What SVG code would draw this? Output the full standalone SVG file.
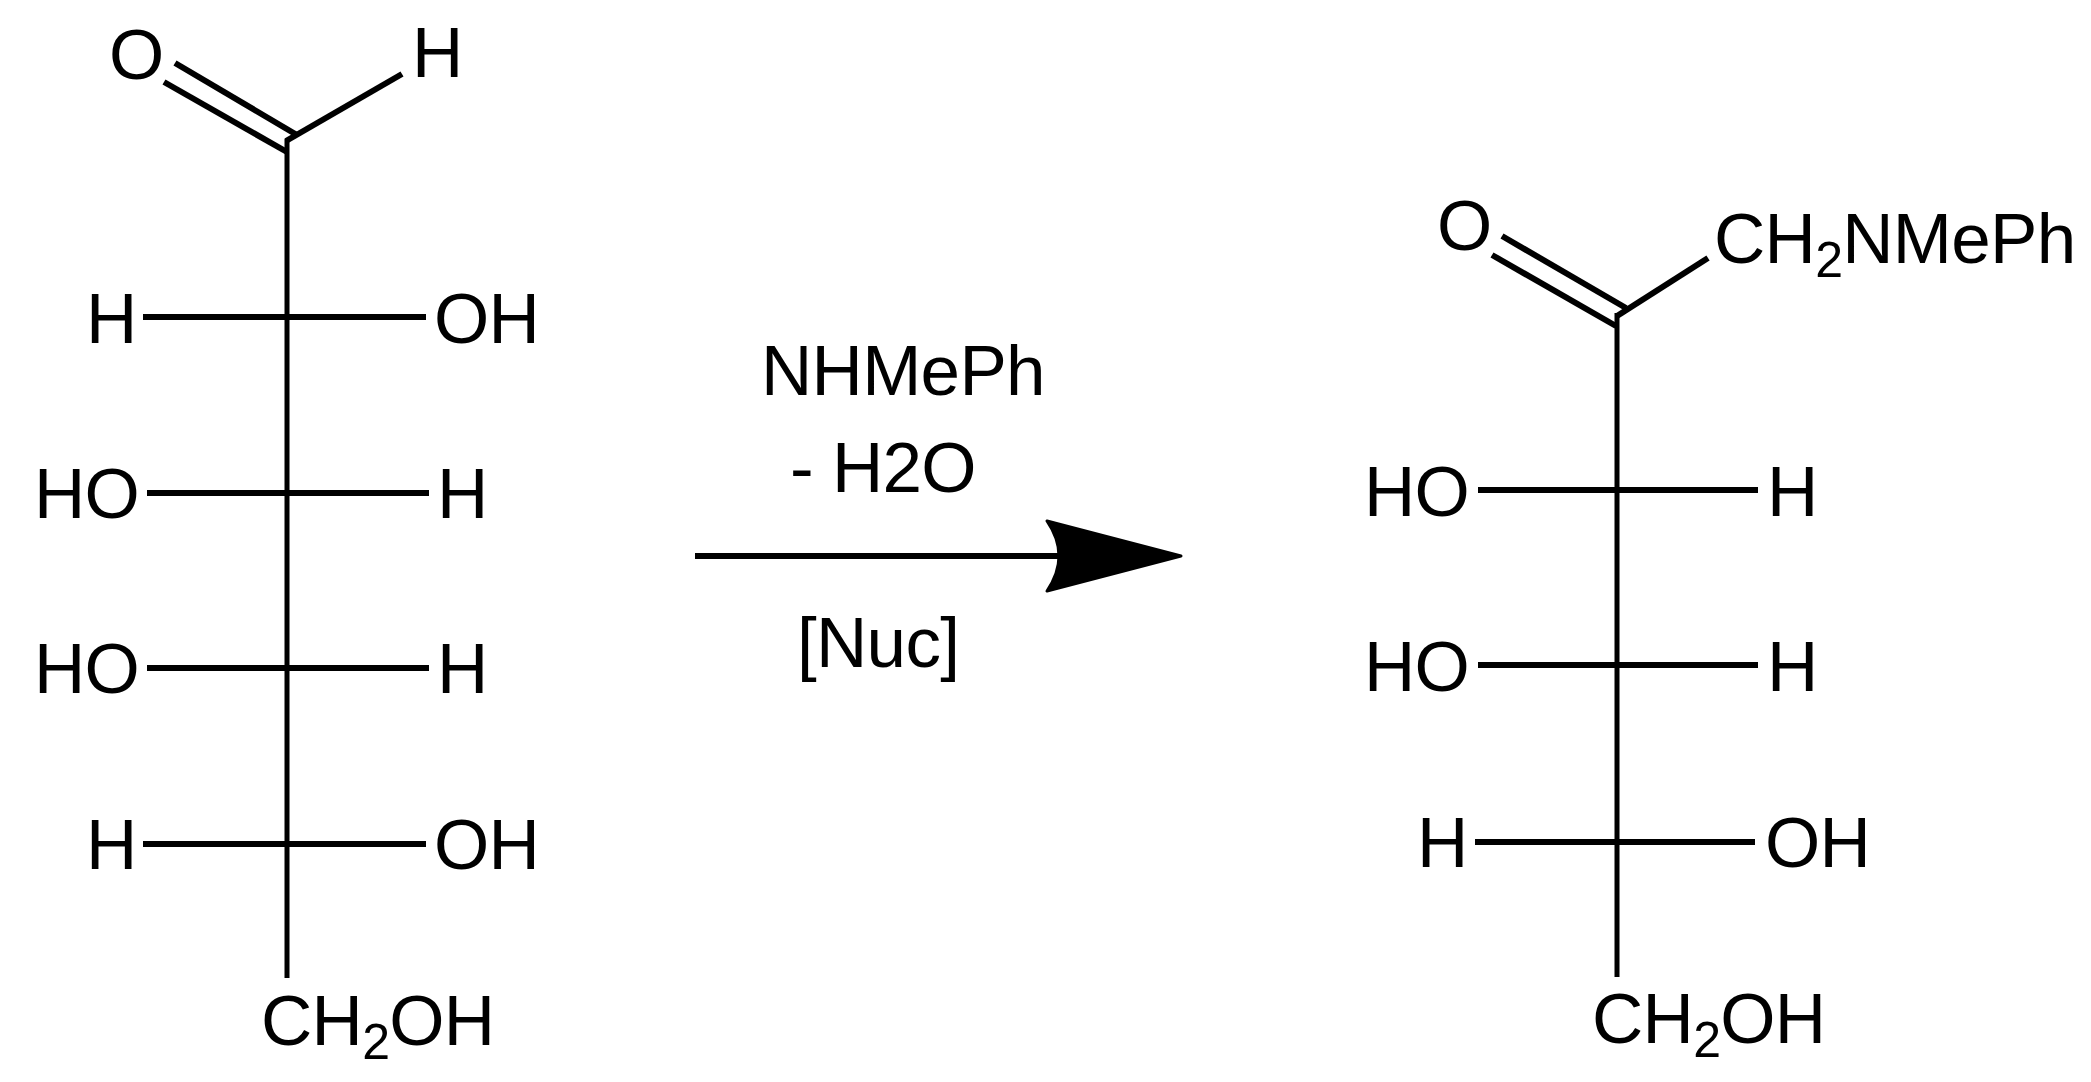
<svg xmlns="http://www.w3.org/2000/svg" width="2091" height="1082" viewBox="0 0 2091 1082">
<style>
text{font-family:"Liberation Sans",Arial,sans-serif;font-size:71px;letter-spacing:-0.7px;fill:#000}
.s{font-size:50px}
line{stroke:#000;stroke-width:6;fill:none}
.v{stroke-width:5}
</style>
<rect width="2091" height="1082" fill="#fff"/>
<g id="connectors">
<line class="v" x1="287" y1="139" x2="287" y2="978"/>
<line x1="297" y1="135" x2="175" y2="63"/>
<line x1="287" y1="152" x2="164" y2="82"/>
<line x1="286" y1="141" x2="402" y2="74"/>
<line x1="143" y1="317" x2="426" y2="317"/>
<line x1="147" y1="493" x2="429" y2="493"/>
<line x1="147" y1="668" x2="429" y2="668"/>
<line x1="143" y1="844" x2="426" y2="844"/>
<line class="v" x1="1617" y1="313" x2="1617" y2="977"/>
<line x1="1626" y1="308" x2="1502" y2="236"/>
<line x1="1616" y1="326" x2="1492" y2="255"/>
<line x1="1617" y1="316" x2="1708" y2="258"/>
<line x1="1478" y1="490" x2="1758" y2="490"/>
<line x1="1478" y1="665" x2="1758" y2="665"/>
<line x1="1475" y1="842" x2="1755" y2="842"/>
<line x1="695" y1="556" x2="1062" y2="556"/>
<path id="arrowhead" d="M1181 556L1047 521Q1071 556 1047 591Z" fill="#000" stroke="#000" stroke-width="3" stroke-linejoin="round"/>
</g>
<g id="aldose">
<text x="109" y="79">O</text>
<text x="412" y="77">H</text>
<text x="86" y="343">H</text>
<text x="434" y="343">OH</text>
<text x="34" y="518">HO</text>
<text x="437" y="518">H</text>
<text x="34" y="693">HO</text>
<text x="437" y="693">H</text>
<text x="86" y="869">H</text>
<text x="434" y="869">OH</text>
<text x="261" y="1045">CH<tspan class="s" dy="14">2</tspan><tspan dy="-14">OH</tspan></text>
</g>
<g id="reagents">
<text x="761" y="395">NHMePh</text>
<text x="790" y="492">- H2O</text>
<text x="797" y="667">[Nuc]</text>
</g>
<g id="product">
<text x="1437" y="250">O</text>
<text x="1714" y="263">CH<tspan class="s" dy="14">2</tspan><tspan dy="-14">NMePh</tspan></text>
<text x="1364" y="516">HO</text>
<text x="1767" y="516">H</text>
<text x="1364" y="691">HO</text>
<text x="1767" y="691">H</text>
<text x="1417" y="867">H</text>
<text x="1765" y="867">OH</text>
<text x="1592" y="1043">CH<tspan class="s" dy="14">2</tspan><tspan dy="-14">OH</tspan></text>
</g>
</svg>
